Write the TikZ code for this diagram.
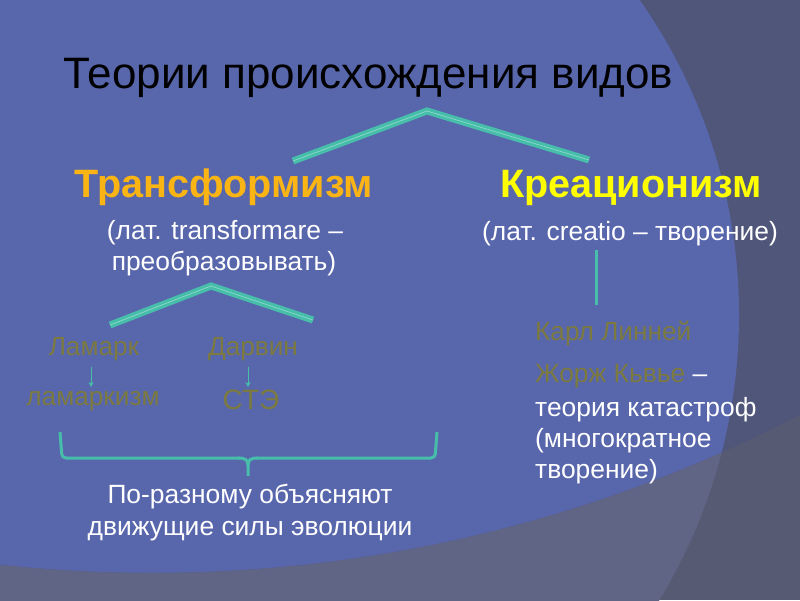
\documentclass[tikz,border=0pt]{standalone}
\usepackage{fontspec}
\setmainfont{Liberation Sans}
\usetikzlibrary{arrows.meta}
\definecolor{bgblue}{RGB}{88,102,172}
\definecolor{bgdark}{RGB}{79,86,121}
\definecolor{bandblue}{RGB}{96,101,134}
\definecolor{banddark}{RGB}{86,90,115}
\definecolor{teal}{RGB}{70,190,170}
\definecolor{tealin}{RGB}{150,220,205}
\definecolor{orng}{RGB}{250,180,20}
\definecolor{yel}{RGB}{255,255,0}
\definecolor{olv}{RGB}{124,122,62}
\tikzset{
  wtxt/.style={inner sep=0pt, font=\fontsize{26.4}{31}\selectfont, text=white},
  ttl/.style={inner sep=0pt, font=\fontsize{44}{52}\selectfont, text=black},
  head/.style={inner sep=0pt, font=\fontsize{39.6}{46}\selectfont\bfseries},
  person/.style={inner sep=0pt, font=\fontsize{26.2}{31}\selectfont, text=olv},
  link/.style={draw=teal, line width=3.2pt, double=tealin, double distance=0.6pt, line join=miter},
  vline/.style={draw=teal, line width=3pt},
  brace/.style={draw=teal, line width=3pt, rounded corners=4pt},
  smallarrow/.style={draw=teal, line width=0.9pt, -{Stealth[length=5pt,width=5pt]}}
}
\begin{document}
\begin{tikzpicture}[x=1pt,y=-1pt]
\useasboundingbox (0,0) rectangle (800,600);
\begin{scope}
\clip (0,0) rectangle (800,600);
\fill[bgdark] (0,0) rectangle (800,600);
\fill[bgblue] (190,315) circle (549);
\begin{scope}[even odd rule]
\clip (-10,-10) rectangle (810,610) (152,-831) circle (1404);
\fill[banddark] (0,0) rectangle (800,600);
\fill[bandblue] (190,315) circle (549);
\end{scope}
\end{scope}

% texts
\node[ttl, anchor=base west] (title) at (63,88) {Теории происхождения видов};
\node[head, text=orng, anchor=base] (trans) at (224,197) {Трансформизм};
\node[head, text=yel, anchor=base] (creat) at (631,197) {Креационизм};
\node[wtxt, anchor=base] (transl1) at (225,239) {(лат. transformare –};
\node[wtxt, anchor=base] (transl2) at (224,270) {преобразовывать)};
\node[wtxt, anchor=base] (creatl) at (630,240) {(лат. creatio – творение)};
\node[person, anchor=base] (lamarck) at (94,355) {Ламарк};
\node[person, anchor=base] (darwin) at (253,355) {Дарвин};
\node[person, anchor=base] (lamism) at (93,405) {ламаркизм};
\node[person, anchor=base, font=\fontsize{28}{32}\selectfont] (ste) at (251,409) {СТЭ};
\node[wtxt, anchor=base] (diff1) at (250,503) {По-разному объясняют};
\node[wtxt, anchor=base] (diff2) at (250,535) {движущие силы эволюции};
\node[person, anchor=base west] (linn) at (535,340) {Карл Линней};
\node[wtxt, anchor=base west] (cuv) at (535,382) {{\color{olv}Жорж Кьвье} –};
\node[wtxt, anchor=base west] (cat1) at (535,416) {теория катастроф};
\node[wtxt, anchor=base west] (cat2) at (535,447) {(многократное};
\node[wtxt, anchor=base west] (cat3) at (535,478) {творение)};

% connector points
\coordinate (t1) at (293,161);
\coordinate (t2) at (427,111);
\coordinate (t3) at (589,160);
\coordinate (s1) at (110,325);
\coordinate (s2) at (211,286);
\coordinate (s3) at (313,320);
\coordinate (v1) at (596,250);
\coordinate (v2) at (596,305);
\coordinate (la1) at (91,367);
\coordinate (la2) at (91,387);
\coordinate (da1) at (248,367);
\coordinate (da2) at (248,387);
\coordinate (bl) at (60,432);
\coordinate (br) at (437,432);
\coordinate (bm) at (248,476);

\draw[link] (t1) -- (t2) -- (t3);
\draw[link] (s1) -- (s2) -- (s3);
\draw[vline] (v1) -- (v2);
\draw[smallarrow] (la1) -- (la2);
\draw[smallarrow] (da1) -- (da2);
\draw[brace] (bl) -- (62,458) -- (240,458);
\draw[brace] (br) -- (435,458) -- (256,458);
\draw[draw=teal, line width=3pt] (238,458) .. controls (246,458) and (248,460) .. (248,466) -- (bm);
\draw[draw=teal, line width=3pt] (258,458) .. controls (250,458) and (248,460) .. (248,466);
\end{tikzpicture}
\end{document}
